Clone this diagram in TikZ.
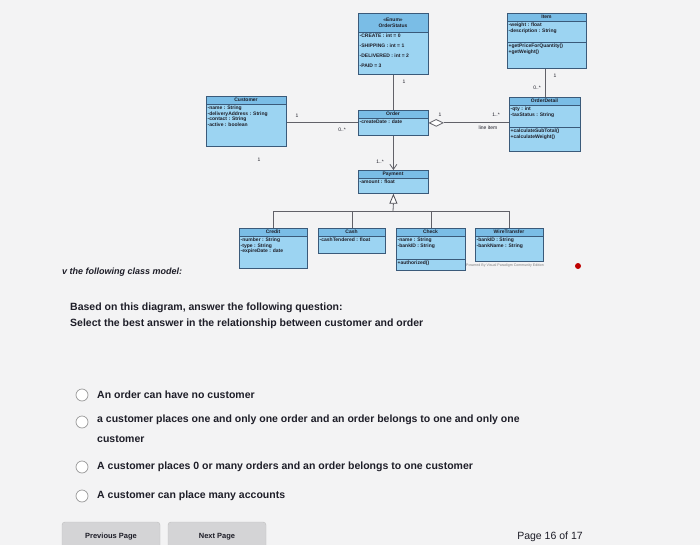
\documentclass[tikz,border=0pt]{standalone}
\usepackage{fontspec}
\setmainfont{Liberation Sans}
\usetikzlibrary{shapes.geometric,arrows.meta}
\definecolor{bg}{HTML}{F3F3F4}
\definecolor{boxfill}{HTML}{9CD4F2}
\definecolor{hdrfill}{HTML}{7ABDE6}
\definecolor{boxline}{HTML}{3A5A7A}
\definecolor{ink}{HTML}{1E1E28}
\definecolor{btn}{HTML}{D4D4D6}
\tikzset{
  box/.style={draw=boxline,line width=0.8pt,inner sep=0pt},
  tiny/.style={font=\bfseries\fontsize{5}{5.8}\selectfont,text=ink,inner sep=0.5pt},
  conn/.style={draw=ink!70,line width=0.8pt},
  lbl/.style={font=\fontsize{5}{6}\selectfont,text=ink,inner sep=0pt},
  qtext/.style={font=\bfseries\fontsize{10.5}{12}\selectfont,text=ink,anchor=west,inner sep=0pt},
  radio/.style={circle,draw=gray!80,line width=0.7pt,minimum size=12pt,inner sep=0pt,fill=white},
  button/.style={rounded corners=3pt,fill=btn,draw=gray!50}
}
% name,x,y,w,h,title,attrs,sep offset (0=none),methods
\newcommand\umlbox[9]{%
  \fill[boxfill] (#2,-#3) rectangle (#2+#4,-#3-#5);
  \fill[hdrfill] (#2,-#3) rectangle (#2+#4,-#3-8);
  \node[box,minimum width=#4pt,minimum height=#5pt,anchor=north west] (#1) at (#2,-#3) {};
  \draw[boxline,line width=0.6pt] (#2,-#3-8) -- (#2+#4,-#3-8);
  \node[tiny,anchor=center] (#1-t) at (#2+#4/2,-#3-4) {#6};
  \node[tiny,anchor=north west,align=left] (#1-a) at (#2+1,-#3-9) {#7};
  \ifnum#8>0
    \draw[boxline,line width=0.6pt] (#2,-#3-#8) -- (#2+#4,-#3-#8);
    \node[tiny,anchor=north west,align=left] (#1-m) at (#2+1,-#3-#8-1) {#9};
  \fi
}
\begin{document}
\begin{tikzpicture}[x=1pt,y=1pt]
\fill[bg] (0,0) rectangle (700,-545);
\useasboundingbox (0,0) rectangle (700,-545);

% OrderStatus enum
\fill[boxfill] (358,-13) rectangle (428,-74);
\fill[hdrfill] (358,-13) rectangle (428,-32);
\node[box,minimum width=70pt,minimum height=61pt,anchor=north west] (os) at (358,-13) {};
\draw[boxline,line width=0.6pt] (358,-32) -- (428,-32);
\node[tiny,align=center] (os-t) at (393,-22.5) {«Enum»\\OrderStatus};
\node[tiny,anchor=north west,align=left,font=\bfseries\fontsize{5}{10}\selectfont] (os-a) at (359,-33) {-CREATE : int = 0\\-SHIPPING : int = 1\\-DELIVERED : int = 2\\-PAID = 3};

\umlbox{item}{507}{13}{79}{55}{Item}{-weight : float\\-description : String}{29}{+getPriceForQuantity()\\+getWeight()}
\umlbox{cust}{206}{96}{80}{50}{Customer}{-name : String\\-deliveryAddress : String\\-contact : String\\-active : boolean}{0}{}
\umlbox{order}{358}{110}{70}{25}{Order}{-createDate : date}{0}{}
\umlbox{od}{509}{97}{71}{54}{OrderDetail}{-qty : int\\-taxStatus : String}{30}{+calculateSubTotal()\\+calculateWeight()}
\umlbox{pay}{358}{170}{70}{23}{Payment}{-amount : float}{0}{}
\umlbox{credit}{239}{228}{68}{40}{Credit}{-number : String\\-type : String\\-expireDate : date}{0}{}
\umlbox{cash}{318}{228}{67}{25}{Cash}{-cashTendered : float}{0}{}
\umlbox{check}{396}{228}{69}{42}{Check}{-name : String\\-bankID : String}{31}{+authorized()}
\umlbox{wire}{475}{228}{68}{33}{WireTransfer}{-bankID : String\\-bankName : String}{0}{}

% connectors
\draw[conn] (os) -- (order);
\node[lbl] at (404,-82) {1};
\draw[conn] (cust.east |- order.west) -- (order.west);
\node[lbl] at (297,-116) {1};
\node[lbl] at (342,-130) {0..*};
\node[lbl] at (259,-160) {1};
\node[diamond,draw=ink!70,line width=0.8pt,fill=white,minimum width=14pt,minimum height=7pt,inner sep=0pt,anchor=west] (dia) at (order.east) {};
\draw[conn] (dia.east) -- (od.west |- dia.east);
\node[lbl] at (440,-115) {1};
\node[lbl] at (496,-115) {1..*};
\node[lbl] at (488,-128) {line item};
\draw[conn] (item.south -| 545,0) -- (od.north -| 545,0);
\node[lbl] at (555,-76) {1};
\node[lbl] at (537,-88) {0..*};
\draw[conn,-{Straight Barb[length=5pt,width=7pt]}] (order) -- (pay);
\node[lbl] at (380,-162) {1..*};

% generalization
\node[isosceles triangle,shape border rotate=90,draw=ink!80,line width=0.8pt,fill=white,minimum width=7pt,minimum height=7pt,inner sep=0pt,anchor=apex] (tri) at (pay.south) {};
\coordinate (bus) at (393,-211);
\draw[conn] (tri.south) -- (bus);
\draw[conn] (credit.north |- bus) -- (wire.north |- bus);
\draw[conn] (credit.north |- bus) -- (credit.north);
\draw[conn] (cash.north |- bus) -- (cash.north);
\draw[conn] (check.north |- bus) -- (check.north);
\draw[conn] (wire.north |- bus) -- (wire.north);

\node[font=\fontsize{3.6}{4}\selectfont,text=gray,anchor=west,inner sep=0pt] (pw) at (466,-266) {Powered By Visual Paradigm Community Edition};
\node[circle,fill=red!75!black,minimum size=6pt,inner sep=0pt] (dot) at (578,-266) {};

% question text
\node[qtext,font=\bfseries\itshape\fontsize{9}{10}\selectfont] (q0) at (62,-272) {v the following class model:};
\node[qtext] (q1) at (70,-308) {Based on this diagram, answer the following question:};
\node[qtext] (q2) at (70,-324) {Select the best answer in the relationship between customer and order};

\node[radio] (r1) at (82,-395) {};
\node[qtext] (a1) at (97,-395) {An order can have no customer};
\node[radio] (r2) at (82,-422) {};
\node[qtext] (a2) at (97,-420) {a customer places one and only one order and an order belongs to one and only one};
\node[qtext] (a2b) at (97,-439) {customer};
\node[radio] (r3) at (82,-467) {};
\node[qtext] (a3) at (97,-467) {A customer places 0 or many orders and an order belongs to one customer};
\node[radio] (r4) at (82,-496) {};
\node[qtext] (a4) at (97,-496) {A customer can place many accounts};

\draw[button] (62,-522) rectangle (160,-550);
\node[font=\bfseries\fontsize{7.5}{8}\selectfont,text=ink] (prev) at (111,-537) {Previous Page};
\draw[button] (168,-522) rectangle (266,-550);
\node[font=\bfseries\fontsize{7.5}{8}\selectfont,text=ink] (next) at (217,-537) {Next Page};
\node[font=\fontsize{10.5}{12}\selectfont,text=ink] (pg) at (550,-537) {Page 16 of 17};
\end{tikzpicture}
\end{document}
